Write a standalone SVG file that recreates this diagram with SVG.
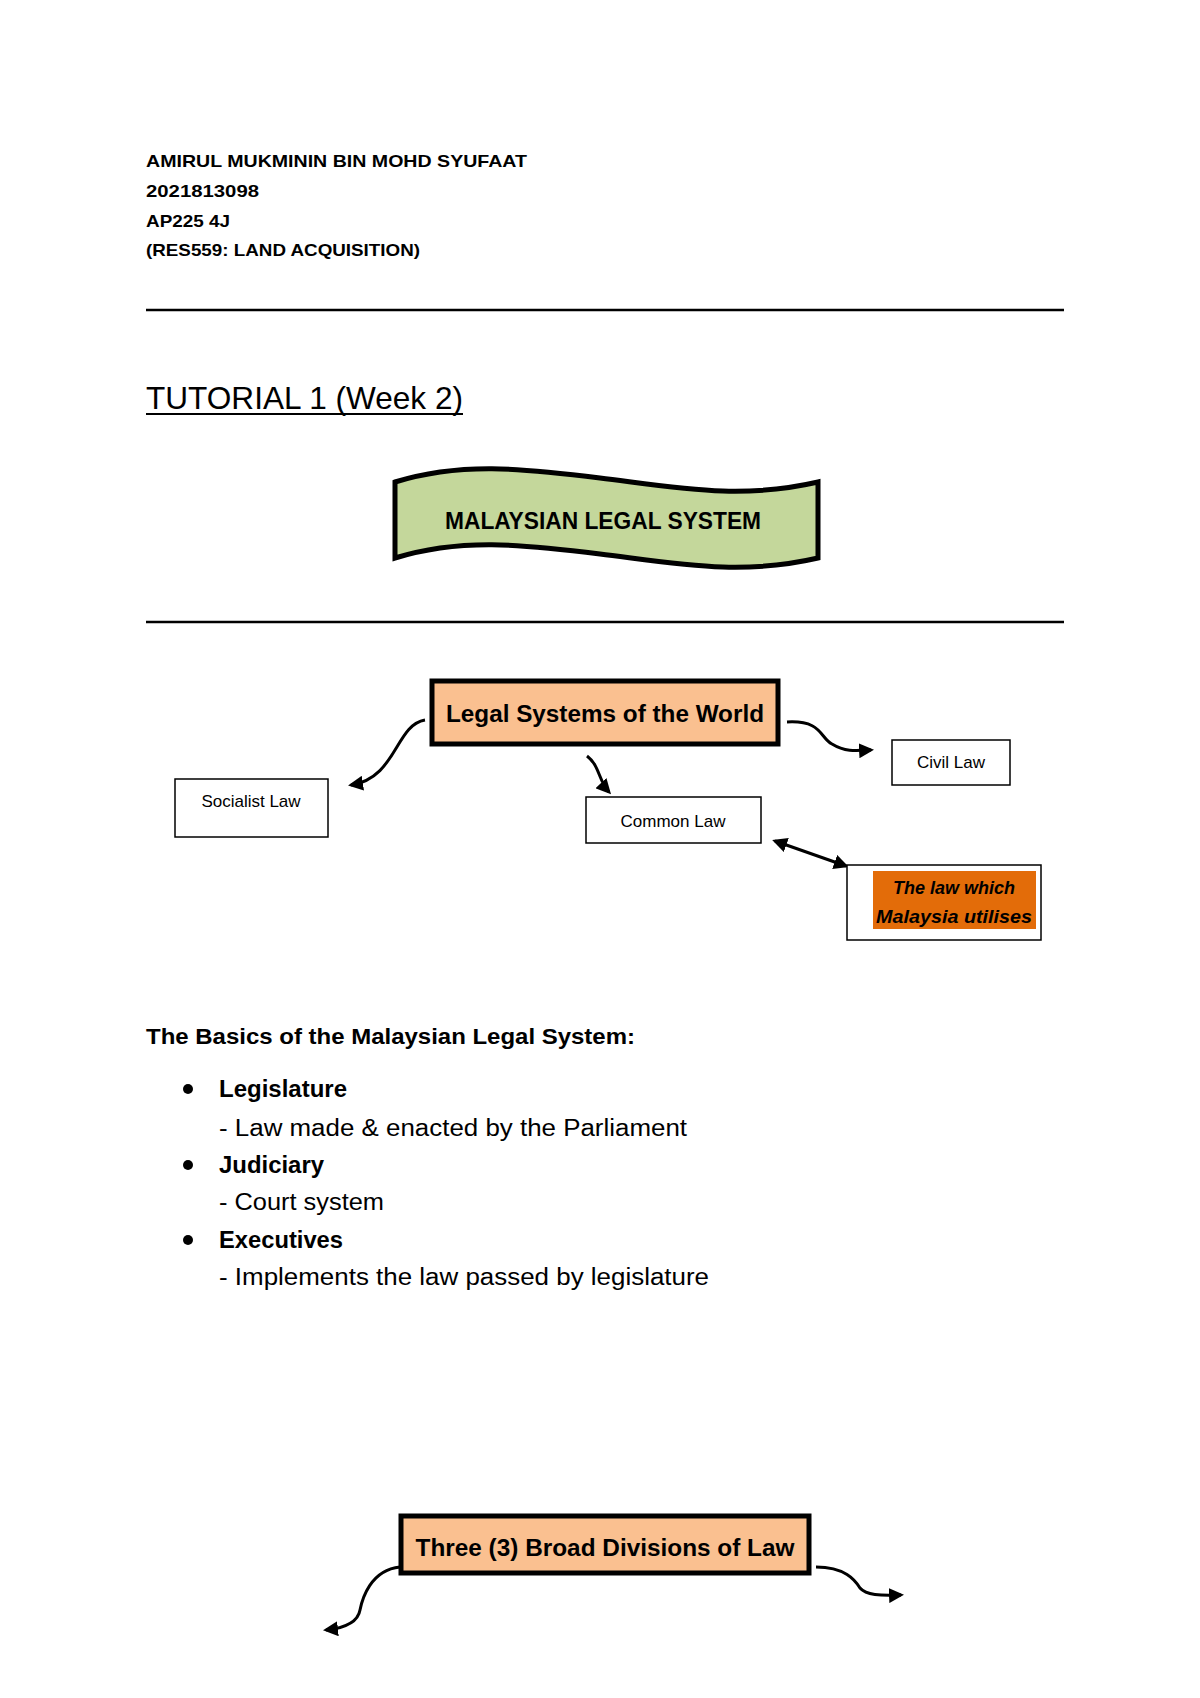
<svg xmlns="http://www.w3.org/2000/svg" width="1200" height="1698" viewBox="0 0 1200 1698">
<style>
text{font-family:"Liberation Sans",Arial,sans-serif;fill:#000}
.b{font-weight:bold}
.box{fill:#fff;stroke:#000;stroke-width:1.5}
.hub{fill:#FAC090;stroke:#000;stroke-width:5}
.con{fill:none;stroke:#000;stroke-width:3}
</style>
<defs>
<marker id="ah" viewBox="0 0 10 10" refX="8" refY="5" markerWidth="5" markerHeight="5" orient="auto-start-reverse"><path d="M0,0 L10,5 L0,10 z" fill="#000"/></marker>
</defs>
<rect width="1200" height="1698" fill="#fff"/>
<g id="header">
<text x="146" y="167" font-size="17" class="b" textLength="381" lengthAdjust="spacingAndGlyphs">AMIRUL MUKMININ BIN MOHD SYUFAAT</text>
<text x="146" y="197" font-size="17" class="b" textLength="113" lengthAdjust="spacingAndGlyphs">2021813098</text>
<text x="146" y="227" font-size="17" class="b" textLength="84" lengthAdjust="spacingAndGlyphs">AP225 4J</text>
<text x="146" y="256" font-size="17" class="b" textLength="274" lengthAdjust="spacingAndGlyphs">(RES559: LAND ACQUISITION)</text>
<line x1="146" y1="310" x2="1064" y2="310" stroke="#000" stroke-width="2.5"/>
<text x="146" y="409" font-size="32" textLength="317" lengthAdjust="spacingAndGlyphs">TUTORIAL 1 (Week 2)</text>
<line x1="146" y1="414" x2="463" y2="414" stroke="#000" stroke-width="2"/>
</g>
<g id="banner">
<path d="M395,482 C460,462 520,468 600,478 C680,488 740,500 818,482 L818,558 C740,576 680,564 600,554 C520,544 460,538 395,558 Z" fill="#C4D79B" stroke="#000" stroke-width="5"/>
<text x="603" y="529" font-size="24" class="b" text-anchor="middle" textLength="316" lengthAdjust="spacingAndGlyphs">MALAYSIAN LEGAL SYSTEM</text>
</g>
<line x1="146" y1="622" x2="1064" y2="622" stroke="#000" stroke-width="2.5"/>
<g id="connectors">
<path class="con" d="M425,720 C395,725 397,778 351,785" marker-end="url(#ah)"/>
<path class="con" d="M787,722 C822,720 820,738 832,744 C845,752 855,751 871,750" marker-end="url(#ah)"/>
<path class="con" d="M587,756 C600,766 598,780 609,792" marker-end="url(#ah)"/>
<path class="con" d="M775,841 L846,866" marker-start="url(#ah)" marker-end="url(#ah)"/>
<path class="con" d="M400,1567 C370,1570 362,1600 360,1610 C358,1622 345,1628 326,1630" marker-end="url(#ah)"/>
<path class="con" d="M816,1567 C845,1567 855,1580 860,1588 C866,1595 880,1596 901,1595" marker-end="url(#ah)"/>
</g>
<g id="legal-systems">
<rect class="hub" x="432" y="681" width="346" height="63"/>
<text x="605" y="722" font-size="23" class="b" text-anchor="middle" textLength="318" lengthAdjust="spacingAndGlyphs">Legal Systems of the World</text>
</g>
<g id="civil-law">
<rect class="box" x="892" y="740" width="118" height="45"/>
<text x="951" y="768" font-size="17" text-anchor="middle">Civil Law</text>
</g>
<g id="socialist-law">
<rect class="box" x="175" y="779" width="153" height="58"/>
<text x="251" y="807" font-size="17" text-anchor="middle">Socialist Law</text>
</g>
<g id="common-law">
<rect class="box" x="586" y="797" width="175" height="46"/>
<text x="673" y="827" font-size="17" text-anchor="middle">Common Law</text>
</g>
<g id="malaysia-note">
<rect class="box" x="847" y="865" width="194" height="75"/>
<rect x="873" y="871" width="163" height="58" fill="#E36C09"/>
<text x="954" y="894" font-size="18" class="b" font-style="italic" text-anchor="middle">The law which</text>
<text x="954" y="923" font-size="18" class="b" font-style="italic" text-anchor="middle" textLength="156" lengthAdjust="spacingAndGlyphs">Malaysia utilises</text>
</g>
<g id="basics">
<text x="146" y="1044" font-size="22" class="b" textLength="489" lengthAdjust="spacingAndGlyphs">The Basics of the Malaysian Legal System:</text>
<circle cx="188" cy="1089" r="5"/>
<text x="219" y="1097" font-size="23" class="b" textLength="128" lengthAdjust="spacingAndGlyphs">Legislature</text>
<text x="219" y="1136" font-size="23" textLength="468" lengthAdjust="spacingAndGlyphs">- Law made &amp; enacted by the Parliament</text>
<circle cx="188" cy="1165" r="5"/>
<text x="219" y="1173" font-size="23" class="b" textLength="105" lengthAdjust="spacingAndGlyphs">Judiciary</text>
<text x="219" y="1210" font-size="23" textLength="165" lengthAdjust="spacingAndGlyphs">- Court system</text>
<circle cx="188" cy="1240" r="5"/>
<text x="219" y="1248" font-size="23" class="b" textLength="124" lengthAdjust="spacingAndGlyphs">Executives</text>
<text x="219" y="1285" font-size="23" textLength="490" lengthAdjust="spacingAndGlyphs">- Implements the law passed by legislature</text>
</g>
<g id="three-divisions">
<rect class="hub" x="401" y="1516" width="408" height="57"/>
<text x="605" y="1556" font-size="23" class="b" text-anchor="middle" textLength="379" lengthAdjust="spacingAndGlyphs">Three (3) Broad Divisions of Law</text>
</g>
</svg>
